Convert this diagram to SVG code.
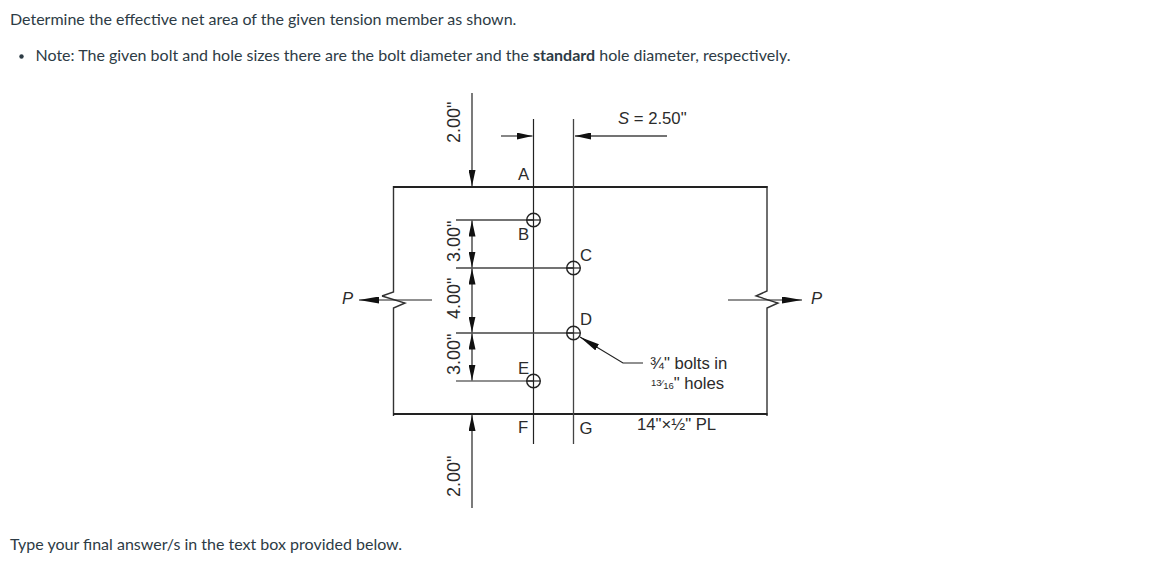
<svg xmlns="http://www.w3.org/2000/svg" width="1168" height="580" viewBox="0 0 1168 580">
<style>
.t{font-family:Lato,"Liberation Sans",sans-serif;font-size:16px;fill:#2d3b45}
.l{font-family:"Liberation Sans",Arial,sans-serif;font-size:16.700px;fill:#2b2b2b}
.d{font-family:"Liberation Sans",Arial,sans-serif;font-size:18px;fill:#2b2b2b}
.i{font-style:italic}
.s{font-size:9.500px}
line,polyline,circle{fill:none;stroke:#222;stroke-width:1.2}
.p{stroke-width:1.4;stroke:#333}
.e{stroke-width:1.8;stroke:#222}
.g{stroke:#444;stroke-width:1.3}
.h{stroke-width:1.4}
</style>
<defs>
<marker id="a" viewBox="0 0 16 7" refX="16" refY="3.500" markerWidth="16" markerHeight="7" markerUnits="userSpaceOnUse" orient="auto-start-reverse"><path d="M0 0L16 3.500L0 7Z" fill="#111"/></marker>
<marker id="b" viewBox="0 0 20 7" refX="20" refY="3.500" markerWidth="20" markerHeight="7" markerUnits="userSpaceOnUse" orient="auto-start-reverse"><path d="M0 0L20 3.500L0 7Z" fill="#111"/></marker>
</defs>
<text class="t" x="10" y="25">Determine the effective net area of the given tension member as shown.</text>
<circle cx="21.500" cy="56.500" r="2.200" style="fill:#2d3b45;stroke:none"/>
<text class="t" x="35.500" y="61">Note: The given bolt and hole sizes there are the bolt diameter and the <tspan font-weight="700">standard</tspan> hole diameter, respectively.</text>
<text class="t" x="10" y="550">Type your final answer/s in the text box provided below.</text>
<g id="plate">
<polyline class="p" points="382,296 393.500,292 393.500,186"/>
<polyline class="p" points="393.500,416 393.500,308 405,303 382,296"/>
<polyline class="p" points="767,186 767,291 756,296 778,303 767,308 767,416"/>
<line class="e" x1="393" y1="187" x2="767.500" y2="187"/>
<line class="e" x1="393" y1="414" x2="767.500" y2="414"/>
</g>
<g id="connectors">
<line x1="533.500" y1="119" x2="533.500" y2="444"/>
<line class="g" x1="573.500" y1="119" x2="573.500" y2="444"/>
<line class="g" x1="501" y1="136" x2="532.500" y2="136" marker-end="url(#a)"/>
<line class="g" x1="667" y1="136" x2="575" y2="136" marker-end="url(#a)"/>
<line x1="472" y1="93" x2="472" y2="186" marker-end="url(#a)"/>
<line x1="472" y1="508" x2="472" y2="415" marker-end="url(#a)"/>
<line class="g" x1="456" y1="220" x2="533" y2="220"/>
<line class="g" x1="456" y1="268" x2="573" y2="268"/>
<line class="g" x1="456" y1="333" x2="573" y2="333"/>
<line x1="456" y1="381" x2="533" y2="381"/>
<line x1="472" y1="220.500" x2="472" y2="267.500" marker-start="url(#a)" marker-end="url(#a)"/>
<line x1="472" y1="268.500" x2="472" y2="332.500" marker-start="url(#a)" marker-end="url(#a)"/>
<line x1="472" y1="333.500" x2="472" y2="380.500" marker-start="url(#a)" marker-end="url(#a)"/>
<line x1="432" y1="300" x2="359" y2="300" marker-end="url(#b)"/>
<line x1="728" y1="300" x2="802" y2="300" marker-end="url(#b)"/>
<polyline points="643,363 623,363 580,337" marker-end="url(#b)"/>
</g>
<g id="hole-b"><circle class="h" cx="533.500" cy="220" r="6.800"/><line x1="526.700" y1="220" x2="540.300" y2="220"/></g>
<g id="hole-c"><circle class="h" cx="573.500" cy="268" r="6.800"/><line x1="566.700" y1="268" x2="580.300" y2="268"/></g>
<g id="hole-d"><circle class="h" cx="573.500" cy="333" r="6.800"/><line x1="566.700" y1="333" x2="580.300" y2="333"/></g>
<g id="hole-e"><circle class="h" cx="533.500" cy="381" r="6.800"/><line x1="526.700" y1="381" x2="540.300" y2="381"/></g>
<g id="labels">
<text class="l" x="518" y="180">A</text>
<text class="l" x="518" y="240">B</text>
<text class="l" x="580" y="261">C</text>
<text class="l" x="580" y="325">D</text>
<text class="l" x="518" y="374">E</text>
<text class="l" x="518" y="433">F</text>
<text class="l" x="579.500" y="434">G</text>
<text class="l i" x="342" y="304">P</text>
<text class="l i" x="811" y="304">P</text>
<text class="l" x="618" y="124"><tspan class="i">S</tspan> = 2.50"</text>
<text class="l" x="650" y="369">¾" bolts in</text>
<text class="l" x="651" y="389"><tspan class="s" dy="-3">13</tspan><tspan class="s">⁄</tspan><tspan class="s" dy="3">16</tspan>" holes</text>
<text class="l" x="637" y="430">14"×½" PL</text>
<text class="d" transform="translate(460,143) rotate(-90)">2.00"</text>
<text class="d" transform="translate(460,262) rotate(-90)">3.00"</text>
<text class="d" transform="translate(460,319) rotate(-90)">4.00"</text>
<text class="d" transform="translate(460,375) rotate(-90)">3.00"</text>
<text class="d" transform="translate(460,497) rotate(-90)">2.00"</text>
</g>
</svg>
